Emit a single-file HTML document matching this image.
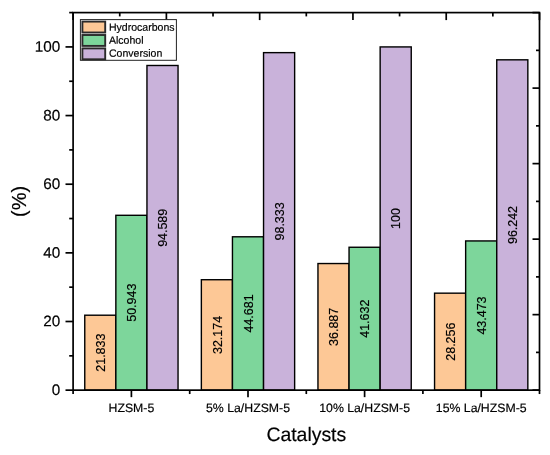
<!DOCTYPE html>
<html><head><meta charset="utf-8"><title>Catalysts</title>
<style>html,body{margin:0;padding:0;background:#fff}svg{display:block}text{font-family:'Liberation Sans', Arial, sans-serif;fill:#000;stroke:#000;stroke-width:0.18px}</style></head>
<body>
<svg width="550" height="455" viewBox="0 0 550 455">
<rect width="550" height="455" fill="#fff"/>
<rect x="84.76" y="315.21" width="31.09" height="74.94" fill="#fdc896" stroke="#000" stroke-width="1.4"/>
<rect x="115.85" y="215.30" width="31.09" height="174.85" fill="#7dd69b" stroke="#000" stroke-width="1.4"/>
<rect x="146.95" y="65.49" width="31.09" height="324.66" fill="#c9b2da" stroke="#000" stroke-width="1.4"/>
<rect x="201.36" y="279.72" width="31.09" height="110.43" fill="#fdc896" stroke="#000" stroke-width="1.4"/>
<rect x="232.45" y="236.79" width="31.09" height="153.36" fill="#7dd69b" stroke="#000" stroke-width="1.4"/>
<rect x="263.55" y="52.64" width="31.09" height="337.51" fill="#c9b2da" stroke="#000" stroke-width="1.4"/>
<rect x="317.96" y="263.54" width="31.09" height="126.61" fill="#fdc896" stroke="#000" stroke-width="1.4"/>
<rect x="349.05" y="247.26" width="31.09" height="142.89" fill="#7dd69b" stroke="#000" stroke-width="1.4"/>
<rect x="380.15" y="46.92" width="31.09" height="343.23" fill="#c9b2da" stroke="#000" stroke-width="1.4"/>
<rect x="434.56" y="293.17" width="31.09" height="96.98" fill="#fdc896" stroke="#000" stroke-width="1.4"/>
<rect x="465.65" y="240.94" width="31.09" height="149.21" fill="#7dd69b" stroke="#000" stroke-width="1.4"/>
<rect x="496.75" y="59.82" width="31.09" height="330.33" fill="#c9b2da" stroke="#000" stroke-width="1.4"/>
<text transform="translate(100.31,352.68) scale(1.030,1) rotate(-90)" font-size="12.45" text-anchor="middle" dy="0.36em">21.833</text>
<text transform="translate(131.40,302.72) scale(1.030,1) rotate(-90)" font-size="12.45" text-anchor="middle" dy="0.36em">50.943</text>
<text transform="translate(162.49,227.82) scale(1.030,1) rotate(-90)" font-size="12.45" text-anchor="middle" dy="0.36em">94.589</text>
<text transform="translate(216.91,334.94) scale(1.030,1) rotate(-90)" font-size="12.45" text-anchor="middle" dy="0.36em">32.174</text>
<text transform="translate(248.00,313.47) scale(1.030,1) rotate(-90)" font-size="12.45" text-anchor="middle" dy="0.36em">44.681</text>
<text transform="translate(279.09,221.40) scale(1.030,1) rotate(-90)" font-size="12.45" text-anchor="middle" dy="0.36em">98.333</text>
<text transform="translate(333.51,326.85) scale(1.030,1) rotate(-90)" font-size="12.45" text-anchor="middle" dy="0.36em">36.887</text>
<text transform="translate(364.60,318.70) scale(1.030,1) rotate(-90)" font-size="12.45" text-anchor="middle" dy="0.36em">41.632</text>
<text transform="translate(395.69,218.54) scale(1.030,1) rotate(-90)" font-size="12.45" text-anchor="middle" dy="0.36em">100</text>
<text transform="translate(450.11,341.66) scale(1.030,1) rotate(-90)" font-size="12.45" text-anchor="middle" dy="0.36em">28.256</text>
<text transform="translate(481.20,315.54) scale(1.030,1) rotate(-90)" font-size="12.45" text-anchor="middle" dy="0.36em">43.473</text>
<text transform="translate(512.29,224.99) scale(1.030,1) rotate(-90)" font-size="12.45" text-anchor="middle" dy="0.36em">96.242</text>
<g stroke="#000" stroke-width="1.70" fill="none" stroke-linecap="butt">
<rect x="73.10" y="12.60" width="466.40" height="377.55"/>
<line x1="65.50" y1="390.15" x2="73.10" y2="390.15"/>
<line x1="69.20" y1="355.83" x2="73.10" y2="355.83"/>
<line x1="65.50" y1="321.50" x2="73.10" y2="321.50"/>
<line x1="69.20" y1="287.18" x2="73.10" y2="287.18"/>
<line x1="65.50" y1="252.86" x2="73.10" y2="252.86"/>
<line x1="69.20" y1="218.54" x2="73.10" y2="218.54"/>
<line x1="65.50" y1="184.21" x2="73.10" y2="184.21"/>
<line x1="69.20" y1="149.89" x2="73.10" y2="149.89"/>
<line x1="65.50" y1="115.57" x2="73.10" y2="115.57"/>
<line x1="69.20" y1="81.25" x2="73.10" y2="81.25"/>
<line x1="65.50" y1="46.92" x2="73.10" y2="46.92"/>
<line x1="69.20" y1="12.60" x2="73.10" y2="12.60"/>
<line x1="532.50" y1="390.15" x2="539.50" y2="390.15"/>
<line x1="536.00" y1="352.39" x2="539.50" y2="352.39"/>
<line x1="532.50" y1="314.64" x2="539.50" y2="314.64"/>
<line x1="536.00" y1="276.88" x2="539.50" y2="276.88"/>
<line x1="532.50" y1="239.13" x2="539.50" y2="239.13"/>
<line x1="536.00" y1="201.38" x2="539.50" y2="201.38"/>
<line x1="532.50" y1="163.62" x2="539.50" y2="163.62"/>
<line x1="536.00" y1="125.87" x2="539.50" y2="125.87"/>
<line x1="532.50" y1="88.11" x2="539.50" y2="88.11"/>
<line x1="536.00" y1="50.36" x2="539.50" y2="50.36"/>
<line x1="532.50" y1="12.60" x2="539.50" y2="12.60"/>
<line x1="73.10" y1="12.60" x2="73.10" y2="20.10"/>
<line x1="119.74" y1="12.60" x2="119.74" y2="16.40"/>
<line x1="166.38" y1="12.60" x2="166.38" y2="20.10"/>
<line x1="213.02" y1="12.60" x2="213.02" y2="16.40"/>
<line x1="259.66" y1="12.60" x2="259.66" y2="20.10"/>
<line x1="306.30" y1="12.60" x2="306.30" y2="16.40"/>
<line x1="352.94" y1="12.60" x2="352.94" y2="20.10"/>
<line x1="399.58" y1="12.60" x2="399.58" y2="16.40"/>
<line x1="446.22" y1="12.60" x2="446.22" y2="20.10"/>
<line x1="492.86" y1="12.60" x2="492.86" y2="16.40"/>
<line x1="539.50" y1="12.60" x2="539.50" y2="20.10"/>
<line x1="73.10" y1="390.15" x2="73.10" y2="394.05"/>
<line x1="131.40" y1="390.15" x2="131.40" y2="397.15"/>
<line x1="189.70" y1="390.15" x2="189.70" y2="394.05"/>
<line x1="248.00" y1="390.15" x2="248.00" y2="397.15"/>
<line x1="306.30" y1="390.15" x2="306.30" y2="394.05"/>
<line x1="364.60" y1="390.15" x2="364.60" y2="397.15"/>
<line x1="422.90" y1="390.15" x2="422.90" y2="394.05"/>
<line x1="481.20" y1="390.15" x2="481.20" y2="397.15"/>
<line x1="539.50" y1="390.15" x2="539.50" y2="394.05"/>
</g>
<text transform="translate(60.20,389.50) scale(1.000,1) rotate(0.03)" font-size="15.30" text-anchor="end" dy="0.36em">0</text>
<text transform="translate(60.20,320.85) scale(1.000,1) rotate(0.03)" font-size="15.30" text-anchor="end" dy="0.36em">20</text>
<text transform="translate(60.20,252.21) scale(1.000,1) rotate(0.03)" font-size="15.30" text-anchor="end" dy="0.36em">40</text>
<text transform="translate(60.20,183.56) scale(1.000,1) rotate(0.03)" font-size="15.30" text-anchor="end" dy="0.36em">60</text>
<text transform="translate(60.20,114.92) scale(1.000,1) rotate(0.03)" font-size="15.30" text-anchor="end" dy="0.36em">80</text>
<text transform="translate(60.20,46.27) scale(1.000,1) rotate(0.03)" font-size="15.30" text-anchor="end" dy="0.36em">100</text>
<text transform="translate(131.40,412.10) scale(1.015,1) rotate(0.03)" font-size="12.10" text-anchor="middle">HZSM-5</text>
<text transform="translate(248.00,412.10) scale(1.015,1) rotate(0.03)" font-size="12.10" text-anchor="middle">5% La/HZSM-5</text>
<text transform="translate(364.60,412.10) scale(1.015,1) rotate(0.03)" font-size="12.10" text-anchor="middle">10% La/HZSM-5</text>
<text transform="translate(481.20,412.10) scale(1.015,1) rotate(0.03)" font-size="12.10" text-anchor="middle">15% La/HZSM-5</text>
<text transform="translate(306.30,440.90) scale(0.995,1) rotate(0.03)" font-size="19.50" text-anchor="middle">Catalysts</text>
<text transform="translate(26.30,201.38) scale(1.000,1) rotate(-90)" font-size="20.00" text-anchor="middle">(%)</text>
<rect x="80.4" y="19.6" width="96" height="40.7" fill="#fff" stroke="#222" stroke-width="1"/>
<rect x="82.4" y="21.60" width="22.8" height="10.9" fill="#fdc896" stroke="#2a2a2a" stroke-width="1.9"/>
<text transform="translate(108.9,30.70) scale(1.000,1) rotate(0.03)" font-size="10.55">Hydrocarbons</text>
<rect x="82.4" y="35.00" width="22.8" height="10.9" fill="#7dd69b" stroke="#2a2a2a" stroke-width="1.9"/>
<text transform="translate(108.9,43.70) scale(1.000,1) rotate(0.03)" font-size="10.55">Alcohol</text>
<rect x="82.4" y="48.40" width="22.8" height="10.9" fill="#c9b2da" stroke="#2a2a2a" stroke-width="1.9"/>
<text transform="translate(108.9,56.70) scale(1.000,1) rotate(0.03)" font-size="10.55">Conversion</text>
</svg>
</body></html>
